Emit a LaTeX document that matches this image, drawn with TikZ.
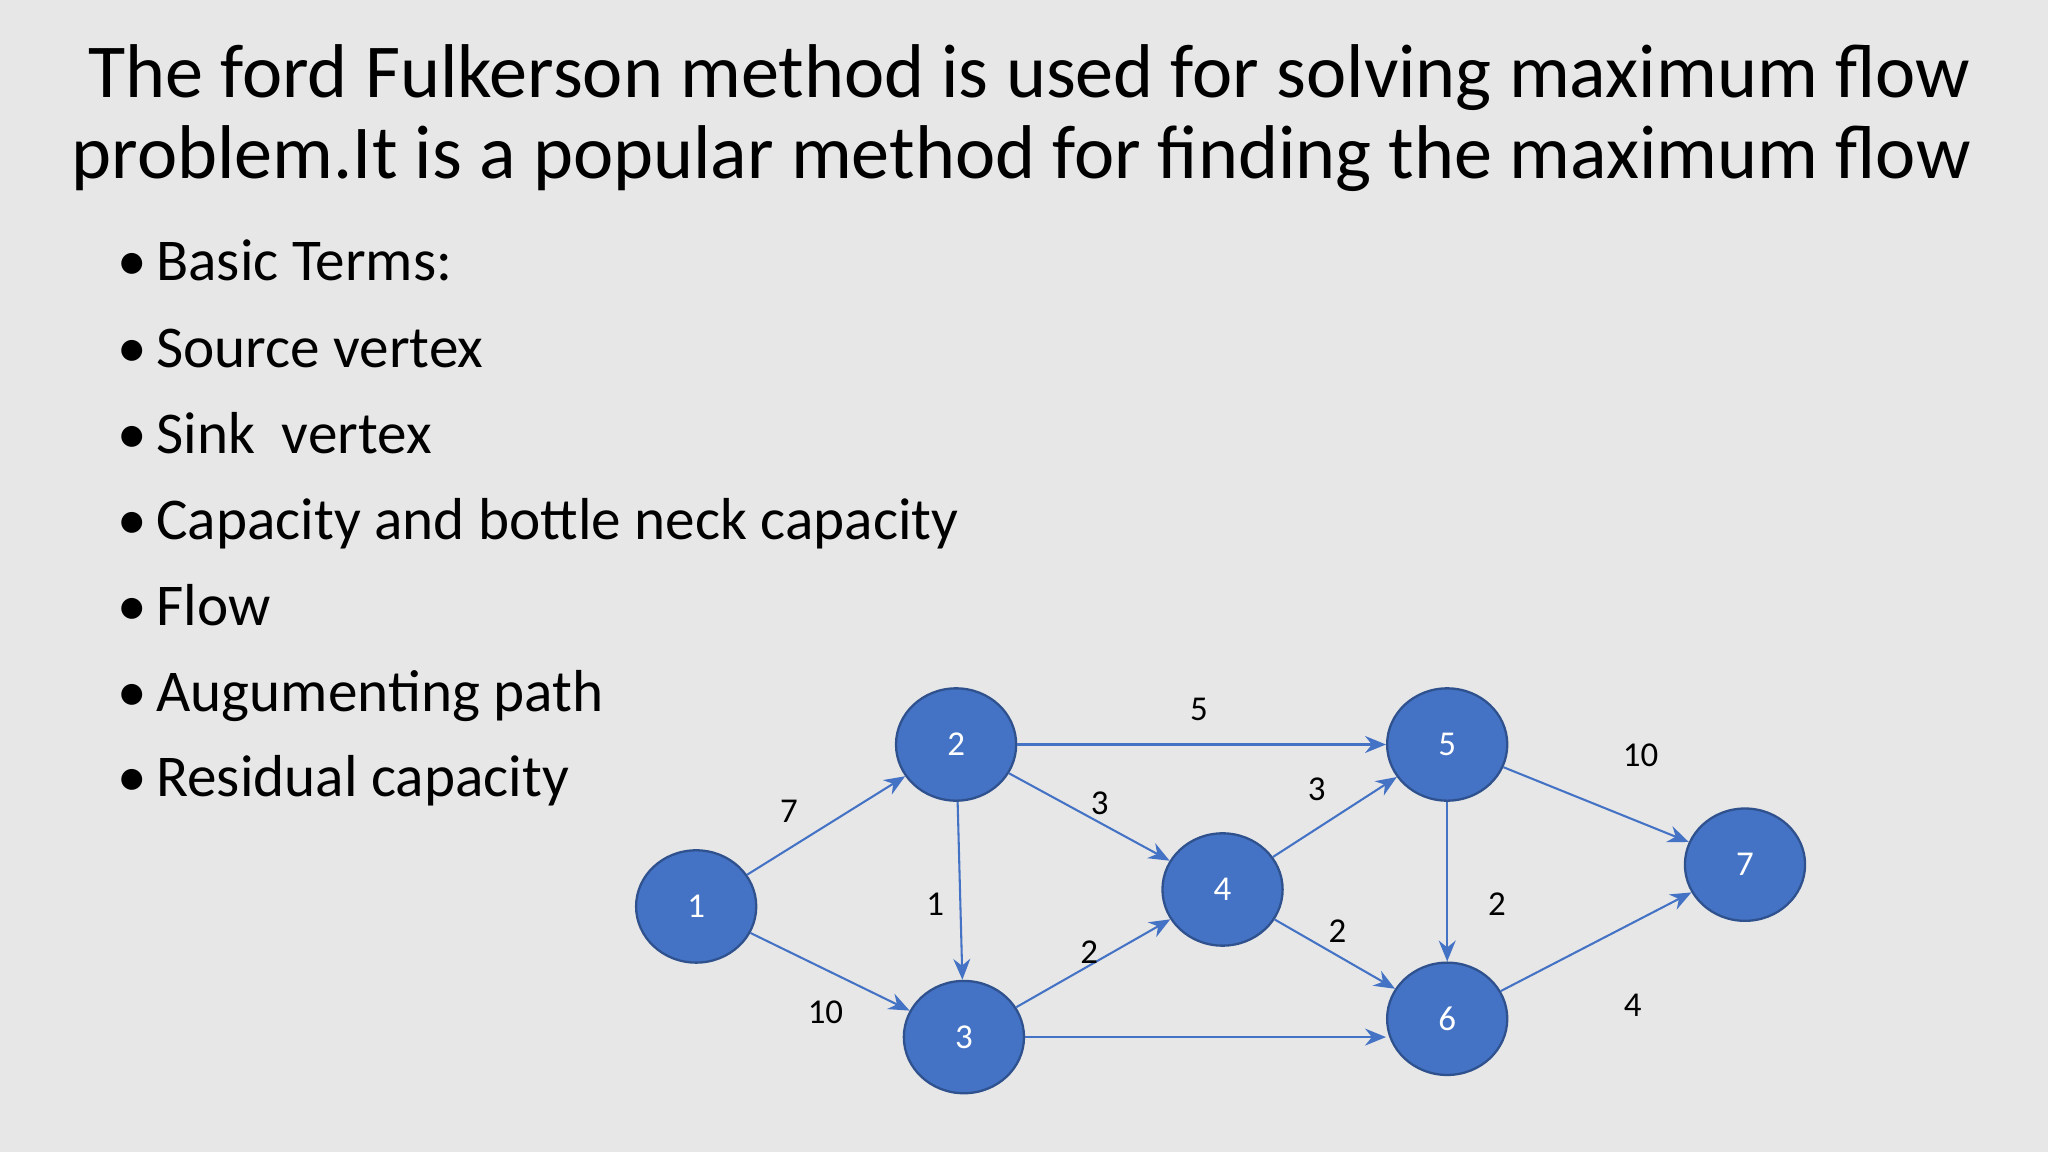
\documentclass[tikz,border=0pt]{standalone}
\usepackage{fontspec}
\setmainfont{Carlito}
\usetikzlibrary{arrows.meta,shapes.geometric}
\definecolor{bg}{HTML}{E7E7E7}
\definecolor{nodeblue}{HTML}{4472C4}
\definecolor{nodeedge}{HTML}{2F528F}
\tikzset{
 vert/.style={ellipse,fill=nodeblue,draw=nodeedge,line width=0.5pt,minimum width=0.92cm,minimum height=0.86cm,inner sep=0pt,text=white,font=\fontsize{7.6}{9}\selectfont},
 edge/.style={draw=nodeblue,line width=0.45pt,-{Stealth[length=1.6mm,width=1.3mm]}},
 elab/.style={font=\fontsize{7.6}{9}\selectfont,text=black},
 bul/.style={anchor=base west,font=\fontsize{12.9}{15}\selectfont},
 ttl/.style={anchor=base,font=\fontsize{16.6}{20}\selectfont}
}
\begin{document}
\begin{tikzpicture}
\fill[bg] (0,0) rectangle (15.68,8.82);
\useasboundingbox (0,0) rectangle (15.68,8.82);
\node[ttl] (t1) at (7.88,8.07) {The ford Fulkerson method is used for solving maximum flow};
\node[ttl] (t2) at (7.82,7.45) {problem.It is a popular method for finding the maximum flow};
\foreach \y/\t [count=\i] in {6.67/Basic Terms:,6.01/Source vertex,5.35/Sink\ \ vertex,4.69/Capacity and bottle neck capacity,4.03/Flow,3.37/Augumenting path,2.72/Residual capacity}{
 \node[bul,inner sep=0pt] (d\i) at (0.89,\y) {•};
 \node[bul,inner sep=0pt] (b\i) at (1.19,\y) {\t};}
\node[vert] (n1) at (5.33,1.88) {1};
\node[vert] (n2) at (7.32,3.12) {2};
\node[vert] (n3) at (7.38,0.88) {3};
\node[vert] (n4) at (9.36,2.01) {4};
\node[vert] (n5) at (11.08,3.12) {5};
\node[vert] (n6) at (11.08,1.02) {6};
\node[vert] (n7) at (13.36,2.20) {7};
\draw[edge] (n1) -- (n2);
\draw[edge] (n1) -- (n3);
\draw[edge] (n2) -- (n3);
\draw[edge] (n2) -- (n5);
\draw[edge] (n2) -- (n4);
\draw[edge] (n3) -- (n4);
\draw[edge] (n3.east) -- (n3.east -| n6.west);
\draw[edge] (n4) -- (n5);
\draw[edge] (n4) -- (n6);
\draw[edge] (n5) -- (n6);
\draw[edge] (n5) -- (n7);
\draw[edge] (n6) -- (n7);
\node[elab] (l12) at (6.04,2.61) {7};
\node[elab] (l13) at (6.32,1.07) {10};
\node[elab] (l23) at (7.16,1.90) {1};
\node[elab] (l25) at (9.18,3.39) {5};
\node[elab] (l24) at (8.42,2.67) {3};
\node[elab] (l45) at (10.08,2.78) {3};
\node[elab] (l34) at (8.34,1.53) {2};
\node[elab] (l46) at (10.24,1.69) {2};
\node[elab] (l56) at (11.46,1.90) {2};
\node[elab] (l57) at (12.56,3.04) {10};
\node[elab] (l67) at (12.50,1.12) {4};
\end{tikzpicture}
\end{document}
